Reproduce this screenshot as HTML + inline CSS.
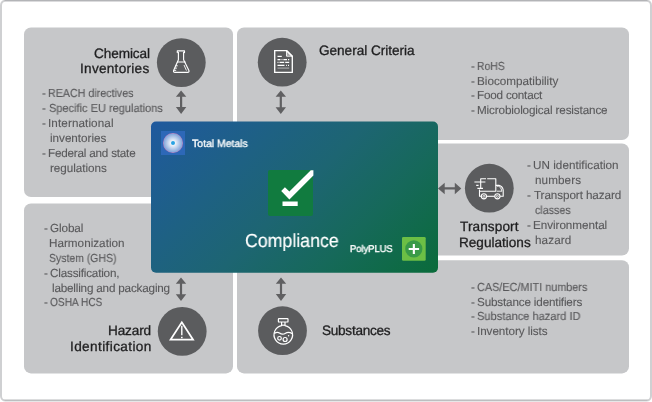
<!DOCTYPE html>
<html><head><meta charset="utf-8">
<style>
html,body{margin:0;padding:0;width:652px;height:402px;overflow:hidden;background:#fff;}
body{position:relative;font-family:"Liberation Sans",sans-serif;}
.t,.l{will-change:transform;}
.a{position:absolute;}
.t{position:absolute;white-space:pre;color:#1f1f20;-webkit-text-stroke-color:#1f1f20;font-size:13.6px;line-height:15.6px;text-rendering:geometricPrecision;-webkit-text-stroke-width:0.3px;}
.l{position:absolute;white-space:pre;color:#59595b;-webkit-text-stroke-color:#59595b;font-size:11.7px;line-height:15px;text-rendering:geometricPrecision;-webkit-text-stroke-width:0.12px;}
svg{position:absolute;overflow:visible;}
</style></head><body>
<svg style="left:0;top:0;" width="652" height="402">
 <rect x="1" y="0.7" width="650" height="399.8" rx="4.5" fill="none" stroke="#cfd0d2" stroke-width="2"/>
 <path d="M4.5 0.5 H647.5" stroke="#b3b4b7" stroke-width="1"/>
 <path d="M4.5 400.3 H647.5" stroke="#bdbec0" stroke-width="1.2"/>
 <g fill="#c6c7c9">
  <rect x="24" y="27.5" width="209" height="169.5" rx="7"/>
  <rect x="237" y="27.5" width="392" height="112.5" rx="7"/>
  <rect x="237" y="143.5" width="392" height="112" rx="7"/>
  <rect x="237" y="260.2" width="392" height="113.2" rx="7"/>
  <rect x="24" y="203.4" width="209" height="170" rx="7"/>
 </g>
 <g fill="#5b5c5e">
  <circle cx="181.3" cy="62.6" r="24.4"/>
  <circle cx="282.2" cy="62.2" r="24.4"/>
  <circle cx="489.3" cy="188.2" r="24.4"/>
  <circle cx="282.5" cy="330.7" r="24.4"/>
  <circle cx="182.2" cy="331.4" r="24.4"/>
 </g>
</svg>

<div class="l" style="left:41.9px;top:86px;">-</div>
<div class="l" style="left:48.2px;top:86px;transform:scaleX(0.9138);transform-origin:0 0;">REACH directives</div>
<div class="l" style="left:41.9px;top:101px;">-</div>
<div class="l" style="left:48.53px;top:101px;transform:scaleX(0.9417);transform-origin:0 0;">Specific EU regulations</div>
<div class="l" style="left:41.9px;top:116px;">-</div>
<div class="l" style="left:48.0px;top:116px;letter-spacing:0.098px;">International</div>
<div class="l" style="left:50.25px;top:131px;letter-spacing:-0.017px;">inventories</div>
<div class="l" style="left:41.9px;top:146px;">-</div>
<div class="l" style="left:48.12px;top:146px;letter-spacing:-0.208px;">Federal and state</div>
<div class="l" style="left:50.25px;top:161px;letter-spacing:-0.033px;">regulations</div>
<div class="l" style="left:470.6px;top:59px;">-</div>
<div class="l" style="left:476.72px;top:59px;transform:scaleX(0.8870);transform-origin:0 0;">RoHS</div>
<div class="l" style="left:470.6px;top:74px;">-</div>
<div class="l" style="left:476.62px;top:74px;letter-spacing:0.008px;">Biocompatibility</div>
<div class="l" style="left:470.6px;top:88px;">-</div>
<div class="l" style="left:476.62px;top:88px;letter-spacing:-0.202px;">Food contact</div>
<div class="l" style="left:470.6px;top:103px;">-</div>
<div class="l" style="left:476.62px;top:103px;letter-spacing:-0.128px;">Microbiological resistance</div>
<div class="l" style="left:527.3px;top:158px;">-</div>
<div class="l" style="left:532.92px;top:158px;letter-spacing:0.031px;">UN identification</div>
<div class="l" style="left:534.95px;top:173px;letter-spacing:0.087px;">numbers</div>
<div class="l" style="left:527.3px;top:188px;">-</div>
<div class="l" style="left:533.55px;top:188px;letter-spacing:-0.088px;">Transport hazard</div>
<div class="l" style="left:535.24px;top:203px;transform:scaleX(0.9128);transform-origin:0 0;">classes</div>
<div class="l" style="left:527.3px;top:218px;">-</div>
<div class="l" style="left:532.92px;top:218px;letter-spacing:-0.044px;">Environmental</div>
<div class="l" style="left:534.95px;top:233px;letter-spacing:0.110px;">hazard</div>
<div class="l" style="left:470.5px;top:280px;">-</div>
<div class="l" style="left:477.14px;top:280px;transform:scaleX(0.9288);transform-origin:0 0;">CAS/EC/MITI numbers</div>
<div class="l" style="left:470.5px;top:295px;">-</div>
<div class="l" style="left:477.1px;top:295px;letter-spacing:-0.161px;">Substance identifiers</div>
<div class="l" style="left:470.5px;top:309px;">-</div>
<div class="l" style="left:477.13px;top:309px;transform:scaleX(0.9480);transform-origin:0 0;">Substance hazard ID</div>
<div class="l" style="left:470.5px;top:324px;">-</div>
<div class="l" style="left:476.6px;top:324px;letter-spacing:-0.066px;">Inventory lists</div>
<div class="l" style="left:43.7px;top:221px;">-</div>
<div class="l" style="left:49.8px;top:221px;letter-spacing:-0.100px;">Global</div>
<div class="l" style="left:48.72px;top:236px;letter-spacing:0.013px;">Harmonization</div>
<div class="l" style="left:49.15px;top:251px;transform:scaleX(0.8958);transform-origin:0 0;">System (GHS)</div>
<div class="l" style="left:43.7px;top:266px;">-</div>
<div class="l" style="left:49.8px;top:266px;letter-spacing:-0.188px;">Classification,</div>
<div class="l" style="left:51.85px;top:281px;letter-spacing:-0.184px;">labelling and packaging</div>
<div class="l" style="left:43.7px;top:295px;">-</div>
<div class="l" style="left:49.87px;top:295px;transform:scaleX(0.8674);transform-origin:0 0;">OSHA HCS</div>
<div class="t" style="left:93.5px;top:46px;letter-spacing:-0.096px;">Chemical</div>
<div class="t" style="left:79.88px;top:61px;letter-spacing:0.270px;">Inventories</div>
<div class="t" style="left:318.6px;top:43px;letter-spacing:-0.028px;">General Criteria</div>
<div class="t" style="left:459.78px;top:219px;letter-spacing:0.097px;">Transport</div>
<div class="t" style="left:458.9px;top:235px;letter-spacing:-0.010px;">Regulations</div>
<div class="t" style="left:322.0px;top:323px;letter-spacing:-0.272px;">Substances</div>
<div class="t" style="left:107.8px;top:323px;letter-spacing:-0.145px;">Hazard</div>
<div class="t" style="left:69.58px;top:339px;letter-spacing:0.385px;">Identification</div>

<!-- circle icons -->
<svg style="left:0;top:0;" width="652" height="402">
 <g fill="none" stroke="#fff" stroke-width="1.15" stroke-linejoin="round" stroke-linecap="round">
  <path d="M177.3 52.6 V50.9 H184.5 V52.6"/>
  <path d="M178.4 52.3 V59.8 L173.6 70.6 Q173.1 72.4 175 72.4 H187.6 Q189.4 72.4 188.9 70.6 L183.6 59.8 V52.3"/>
  <path d="M177.4 62 H185.2"/>
  <path d="M184.2 65.4 L186.3 70.2" stroke-width="0.9"/>
  <path d="M175.8 65.8 H177.3 M175 68.1 H176.5 M174.3 70.3 H175.8" stroke-width="1"/>
 </g>
 <path d="M287 51.6 V55.7 H291.3 Z" fill="#a7a7a9"/>
 <g fill="none" stroke="#fff" stroke-width="1.35">
  <path d="M286.5 50.6 H274.7 V72.4 H292.3 V56.2 Z"/>
  <path d="M286.5 50.6 L292.3 56.2"/>
  <path d="M286.5 50.6 V56.2 H292.3" stroke-width="0.9"/>
 </g>
 <g stroke="#fff" stroke-width="1.2">
  <path d="M277.5 56.4 H281.8"/>
  <path d="M277.5 59.6 H280 M283.5 59.6 H287 M288 59.6 H289.2"/>
  <path d="M280 59.6 H283.5" stroke-opacity="0.45"/>
  <path d="M277.5 62.4 H278.5 M279.5 62.4 H284.2 M285.2 62.4 H289.2"/>
  <path d="M277.5 65.3 H284.5 M286 65.3 H286.8 M288 65.3 H289"/>
  <path d="M277.5 68.1 H289.2" stroke-opacity="0.45"/>
 </g>
 <g fill="none" stroke="#fff" stroke-width="1.1" stroke-linejoin="round">
  <path d="M486 178.7 H480.7 V188.2 M487.2 178.7 H495.8 V191.3 H479.9"/>
  <path d="M495.8 185.4 H499 Q502.6 186.2 503.2 190 V196.3 H500.1"/>
  <path d="M496.8 186.2 H498.8 Q501.2 187.4 502 191.2 H496.8" stroke-width="0.9"/>
  <path d="M479.5 189.4 V196.3 H481.3"/>
  <path d="M486.5 196.3 H494.8"/>
  <circle cx="483.9" cy="196.3" r="2.6"/>
  <circle cx="497.4" cy="196.3" r="2.6"/>
  <circle cx="483.9" cy="196.3" r="1" stroke-width="0.8"/>
  <circle cx="497.4" cy="196.3" r="1" stroke-width="0.8"/>
  <path d="M474.4 182 H485.4 M476.2 185.4 H478.6 M477.4 188.4 H483" stroke-width="1.2"/>
 </g>
 <path d="M181.8 322.2 L193.1 339.7 H170.5 Z" fill="none" stroke="#fff" stroke-width="1.7"/>
 <path d="M181.8 325.7 V335.3" stroke="#fff" stroke-width="1.4"/>
 <rect x="181" y="336.8" width="1.6" height="1.4" fill="#fff"/>
 <g fill="none" stroke="#fff" stroke-width="1.2" stroke-linejoin="round">
  <rect x="278.4" y="318.6" width="9.6" height="3.4" rx="0.6"/>
  <path d="M281.6 322 V325.6 A9.3 9.3 0 1 0 285 325.6 V322"/>
  <path d="M281.6 325.2 H285"/>
  <path d="M274.3 333.5 Q277 331.6 279.5 333 Q282.5 335.3 285.5 333.2 Q288.5 331.5 292.2 333.6" stroke-width="1.3"/>
  <circle cx="279.5" cy="338.3" r="1.8"/>
  <circle cx="285.1" cy="339.5" r="2"/>
 </g>
 <circle cx="288.6" cy="335.8" r="0.7" fill="#fff"/>
</svg>

<!-- arrows -->
<svg style="left:0;top:0;" width="652" height="402">
  <g fill="#606062">
    <path d="M181.1 90.4 L186.3 96.7 L182.2 96.7 L182.2 107.1 L186.3 107.1 L181.1 113.9 L175.9 107.1 L180.0 107.1 L180.0 96.7 L175.9 96.7 Z"/>
    <path d="M280.8 90.5 L286 96.8 L281.9 96.8 L281.9 107.2 L286 107.2 L280.8 114 L275.6 107.2 L279.7 107.2 L279.7 96.8 L275.6 96.8 Z"/>
    <path d="M181 277.5 L186.2 283.8 L182.1 283.8 L182.1 294.2 L186.2 294.2 L181 301 L175.8 294.2 L179.9 294.2 L179.9 283.8 L175.8 283.8 Z"/>
    <path d="M281 277.4 L286.2 283.7 L282.1 283.7 L282.1 294.1 L286.2 294.1 L281 300.9 L275.8 294.1 L279.9 294.1 L279.9 283.7 L275.8 283.7 Z"/>
    <path d="M438 188.5 L444.7 182.8 L444.7 187.3 L454.8 187.3 L454.8 182.8 L461.3 188.5 L454.8 194.2 L454.8 189.6 L444.7 189.6 L444.7 194.2 Z"/>
  </g>
</svg>

<!-- central box -->
<svg style="left:0;top:0;" width="652" height="402"><defs><linearGradient id="bg" gradientUnits="userSpaceOnUse" x1="185" y1="87.65" x2="404" y2="306.65"><stop offset="0" stop-color="#1f599e"/><stop offset="0.3" stop-color="#1e6183"/><stop offset="0.5" stop-color="#1d6572"/><stop offset="0.72" stop-color="#16695a"/><stop offset="1" stop-color="#0a6b3a"/></linearGradient></defs><rect x="151" y="121.5" width="287" height="151.3" rx="5" fill="url(#bg)"/></svg>
<div class="a" style="left:161.1px;top:131.4px;width:24px;height:23.7px;background:#2d68b8;"></div>
<div class="a" style="left:163.2px;top:133.2px;width:19.8px;height:20px;border-radius:50%;background:radial-gradient(circle closest-side,#ffffff 0%,#eef3fa 22%,#c9d8ef 48%,#a3bde4 72%,#87a9dc 90%,#b884c0 97%,#c27ab5 100%);"></div>
<div class="a" style="left:171px;top:141.1px;width:4.4px;height:4.4px;border-radius:50%;background:#2aa2e2;"></div>
<div class="a" style="left:192.35px;top:137.5px;font-size:10.6px;line-height:12px;color:#fff;white-space:nowrap;will-change:transform;text-rendering:geometricPrecision;transform:scaleX(0.987);transform-origin:0 0;-webkit-text-stroke:0.32px #fff;">Total Metals</div>
<div class="a" style="left:268px;top:170.2px;width:45.4px;height:46.3px;border-radius:2px;background:#117b3f;"></div>
<svg style="left:0;top:0;" width="652" height="402"><path fill="#fff" d="M281.2 190.9 L284.9 187.2 L289.4 191.6 L310.8 170.2 L313.4 170.2 L313.4 175.6 L289.4 199.6 Z"/><rect x="282.5" y="201.5" width="15.2" height="4.5" fill="#fff"/></svg>
<div class="a" style="left:244.67px;top:231px;font-size:19px;line-height:21px;color:#fff;white-space:nowrap;will-change:transform;text-rendering:geometricPrecision;transform:scaleX(0.934);transform-origin:0 0;-webkit-text-stroke:0.2px #fff;">Compliance</div>
<div class="a" style="left:350.45px;top:244px;font-size:9.8px;line-height:12px;color:#fff;white-space:nowrap;will-change:transform;text-rendering:geometricPrecision;transform:scaleX(0.957);transform-origin:0 0;-webkit-text-stroke:0.38px #fff;">PolyPLUS</div>
<svg style="left:0;top:0;" width="652" height="402"><rect x="402" y="237" width="23.7" height="23.8" rx="1.3" fill="#6cbf45"/><circle cx="413.8" cy="248.9" r="8.6" fill="#3a9b48"/><path fill="#fff" d="M412.8 244 H414.9 V247.9 H419.1 V250 H414.9 V254.1 H412.8 V250 H408.7 V247.9 H412.8 Z"/></svg>
</body></html>
